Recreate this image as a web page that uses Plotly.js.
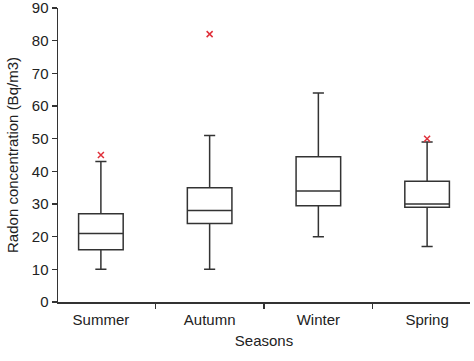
<!DOCTYPE html>
<html>
<head>
<meta charset="utf-8">
<script src="https://cdn.plot.ly/plotly-3.0.1.min.js"></script>
<style>html,body{margin:0;padding:0;background:#fff;}#chart{width:474px;height:361px;}</style>
</head>
<body>
<div id="chart"></div>
<script>
const seasons = ["Summer", "Autumn", "Winter", "Spring"];
const lowerWhisker = [10, 10, 20, 17];
const q1 = [16, 24, 29.5, 29];
const medians = [21, 28, 34, 30];
const q3 = [27, 35, 44.5, 37];
const upperWhisker = [43, 51, 64, 49];
const outlierSeason = ["Summer", "Autumn", "Spring"];
const outlierValue = [45, 82, 50];
const yTicks = [0, 10, 20, 30, 40, 50, 60, 70, 80, 90];

const boxTrace = {
  type: "box",
  x: seasons,
  q1: q1,
  median: medians,
  q3: q3,
  lowerfence: lowerWhisker,
  upperfence: upperWhisker,
  boxpoints: false,
  fillcolor: "#ffffff",
  line: {color: "#333333", width: 1.5},
  width: 0.41,
  whiskerwidth: 0.25,
  showlegend: false,
  hoverinfo: "skip"
};

const outlierTrace = {
  type: "scatter",
  mode: "markers",
  x: outlierSeason,
  y: outlierValue,
  marker: {symbol: "x-thin-open", size: 6, color: "#e0303a", line: {color: "#e0303a", width: 1.5}},
  showlegend: false
};

const layout = {
  width: 474,
  height: 361,
  margin: {l: 58, r: 4, t: 8, b: 59},
  paper_bgcolor: "#ffffff",
  plot_bgcolor: "#ffffff",
  font: {family: "Liberation Sans, Arial, sans-serif", color: "#222222", size: 15},
  showlegend: false,
  xaxis: {
    type: "category",
    categoryorder: "array",
    categoryarray: seasons,
    showline: true,
    linecolor: "#333333",
    linewidth: 1.5,
    ticks: "outside",
    tickson: "boundaries",
    ticklen: 5,
    tickcolor: "#333333",
    tickwidth: 1.5,
    ticklabelstandoff: 3,
    showgrid: false,
    zeroline: false,
    tickfont: {size: 15},
    title: {text: "Seasons", font: {size: 15}, standoff: 9}
  },
  yaxis: {
    range: [0, 90],
    tickvals: yTicks,
    ticklabeloverflow: "allow",
    showline: true,
    linecolor: "#333333",
    linewidth: 1.5,
    ticks: "outside",
    ticklen: 5,
    tickcolor: "#333333",
    tickwidth: 1.5,
    showgrid: false,
    zeroline: false,
    tickfont: {size: 15},
    title: {text: "Radon concentration (Bq/m3)", font: {size: 15}, standoff: 9}
  }
};

Plotly.newPlot("chart", [boxTrace, outlierTrace], layout, {displayModeBar: false, staticPlot: true});
</script>
</body>
</html>
